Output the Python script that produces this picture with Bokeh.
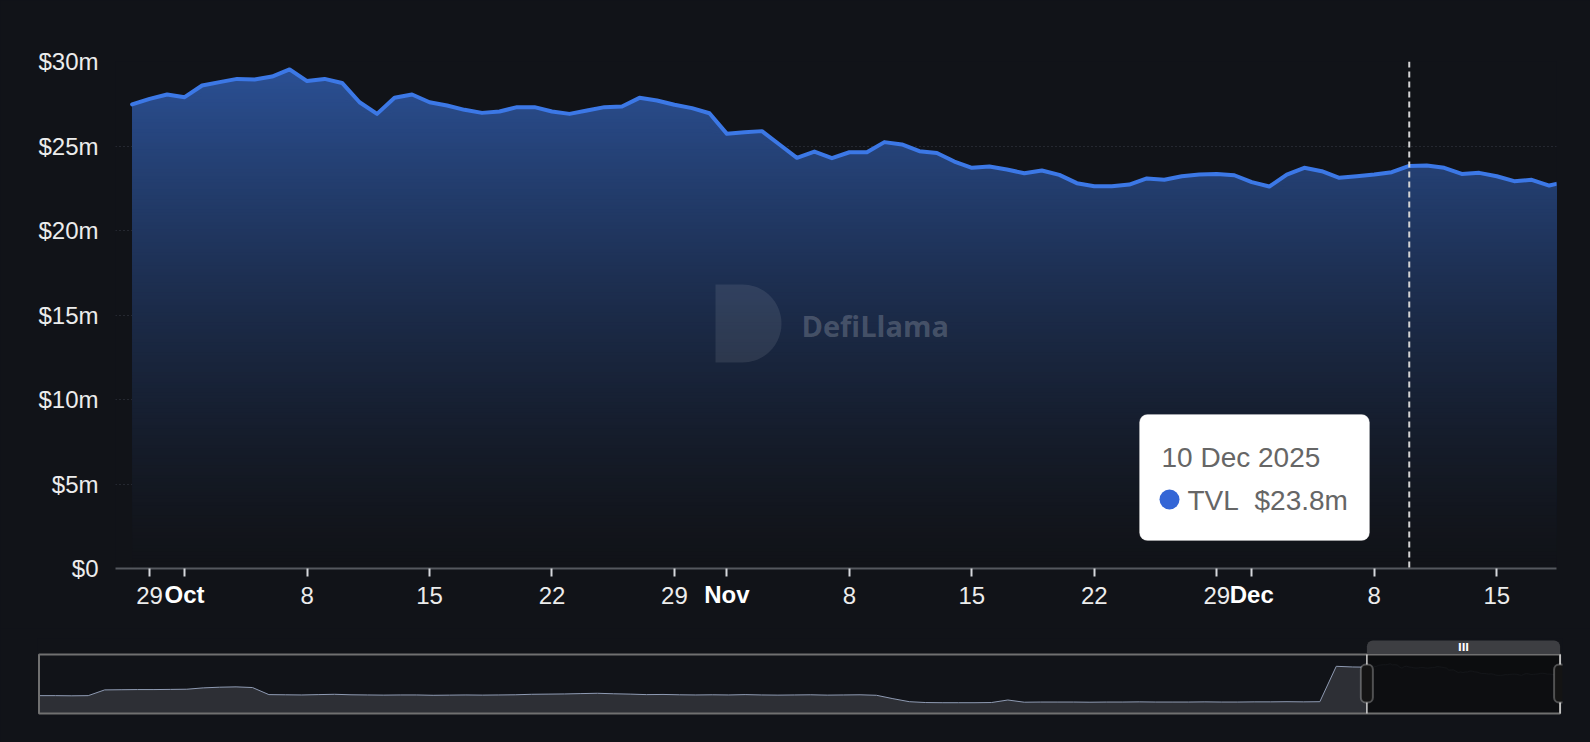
import numpy as np
import pandas as pd
from bokeh.plotting import figure
from bokeh.layouts import column
from bokeh.models import Range1d, FixedTicker, Span, Label, BoxAnnotation, DatetimeAxis
from bokeh.embed import file_html
from bokeh.resources import INLINE

# ---------------- data ----------------
first_day = "2025-09-28"
last_day = "2025-12-18"
live_timestamp = "2025-12-18 10:00"
tvl_m = [27.46, 27.79, 28.05, 27.89, 28.58, 28.78, 28.97, 28.93, 29.11, 29.53,
         28.84, 28.97, 28.73, 27.59, 26.90, 27.85, 28.05, 27.59, 27.40, 27.14,
         26.96, 27.04, 27.30, 27.30, 27.04, 26.90, 27.10, 27.30, 27.34, 27.85,
         27.69, 27.44, 27.24, 26.94, 25.72, 25.82, 25.88, 25.09, 24.30, 24.67,
         24.28, 24.63, 24.63, 25.23, 25.09, 24.69, 24.59, 24.08, 23.71, 23.79,
         23.61, 23.39, 23.55, 23.29, 22.80, 22.62, 22.62, 22.72, 23.08, 23.00,
         23.21, 23.31, 23.35, 23.27, 22.86, 22.60, 23.31, 23.71, 23.51, 23.12,
         23.21, 23.31, 23.45, 23.82, 23.85, 23.71, 23.35, 23.41, 23.21, 22.92,
         23.00, 22.66, 22.76]

y_ticks = [0, 5, 10, 15, 20, 25, 30]
y_tick_labels = ["$0", "$5m", "$10m", "$15m", "$20m", "$25m", "$30m"]

x_tick_dates = ["2025-09-29", "2025-10-01", "2025-10-08", "2025-10-15", "2025-10-22",
                "2025-10-29", "2025-11-01", "2025-11-08", "2025-11-15", "2025-11-22",
                "2025-11-29", "2025-12-01", "2025-12-08", "2025-12-15"]
x_tick_labels = ["29", "", "8", "15", "22", "29", "", "8", "15", "22", "29", "", "8", "15"]
month_dates = ["2025-10-01", "2025-11-01", "2025-12-01"]
month_names = ["Oct", "Nov", "Dec"]

tooltip_date = "2025-12-10"
tooltip_title = "10 Dec 2025"
tooltip_series = "TVL"
tooltip_value = "$23.8m"

# navigator: weekly history before the zoomed window (in $m)
nav_first_week = "2024-03-10"
nav_hist_m = [10.6, 10.6, 10.5, 10.6,
              14.0, 14.1, 14.2, 14.2, 14.3, 14.4,
              15.2, 15.6, 15.8, 15.4,
              11.2, 11.1, 11.0, 11.2, 11.4, 11.1, 11.0, 10.9, 11.0, 11.0, 10.8, 10.9, 11.0, 10.9, 11.0, 11.1,
              11.4, 11.5, 11.6, 11.8, 12.0, 11.7, 11.5,
              11.2, 11.3, 11.1, 11.0, 11.1, 11.0, 11.2, 11.0, 10.9, 11.0, 11.1, 10.9, 11.0, 11.1, 10.8,
              8.8, 7.0,
              6.5, 6.4, 6.4, 6.4, 6.5,
              8.0,
              6.7, 6.8, 6.8, 6.8, 6.7, 6.8, 6.8, 6.9, 6.8, 6.8, 6.8, 6.9, 6.8, 6.8, 6.9, 6.9, 7.0, 6.9, 7.0,
              28.0, 27.6]

# ---------------- styles ----------------
BG = "#111318"
LINE = "#3c78e6"
FONT = "Liberation Sans"
W = 1590
MAIN_H = 628
NAV_H = 114


def ms(s):
    return pd.Timestamp(s).value / 1e6


dates = list(pd.date_range(first_day, last_day, freq="D")) + [pd.Timestamp(live_timestamp)]
x_ms = np.array([d.value / 1e6 for d in dates])
vals = np.array(tvl_m)

DAY = 86400000.0
x_start = x_ms[0] - 0.95 * DAY
x_end = x_ms[-1]

# frame geometry (page pixels)
FL, FR, FT, FB = 115, 1556, 61, 568


def mx(px):
    return x_start + (px - FL) / (FR - FL) * (x_end - x_start)


def my(py):
    return 30.0 * (FB - py) / (FB - FT)


def blend(a):
    c1 = np.array([0x11, 0x13, 0x18], dtype=float)
    c2 = np.array([0x3c, 0x78, 0xe6], dtype=float)
    c = np.round(c1 + a * (c2 - c1)).astype(int)
    return "#%02x%02x%02x" % tuple(c)


p = figure(width=W, height=MAIN_H, title=None, x_axis_type="datetime",
           x_range=Range1d(x_start, x_end), y_range=Range1d(0, 30),
           output_backend="svg", toolbar_location=None,
           min_border_left=FL, min_border_right=W - FR, min_border_top=FT,
           min_border_bottom=MAIN_H - FB,
           background_fill_color=BG, border_fill_color=BG, outline_line_color=None)

# gradient area (stacked bands, top band first)
N = 150
top_val = vals.max()
edges = np.linspace(0, top_val, N + 1)
xs_list, ys_list, cols = [], [], []
for k in range(N - 1, -1, -1):
    hi = edges[k + 1]
    top = np.minimum(vals, hi)
    xs_list.append(np.concatenate([x_ms, x_ms[::-1]]))
    ys_list.append(np.concatenate([top, np.zeros_like(top)]))
    mid = 0.5 * (edges[k] + edges[k + 1])
    cols.append(blend(0.6 * (mid / top_val) ** 1.4))
p.patches(xs=xs_list, ys=ys_list, fill_color=cols, line_color=None)

p.line(x_ms, vals, line_color=LINE, line_width=4, line_join="round", line_cap="round")

# axes
p.yaxis.ticker = FixedTicker(ticks=y_ticks)
p.yaxis.major_label_overrides = {t: l for t, l in zip(y_ticks, y_tick_labels)}
p.yaxis.axis_line_color = None
p.yaxis.major_tick_line_color = None
p.yaxis.minor_tick_line_color = None
p.yaxis.major_label_standoff = 11
p.yaxis.major_label_text_font = FONT
p.yaxis.major_label_text_font_size = "24px"
p.yaxis.major_label_text_color = "#ececec"

xt = [ms(d) for d in x_tick_dates]
p.xaxis.ticker = FixedTicker(ticks=xt)
p.xaxis.major_label_overrides = {t: l for t, l in zip(xt, x_tick_labels)}
p.xaxis.axis_line_color = "#55585e"
p.xaxis.axis_line_width = 2
p.xaxis.major_tick_line_color = "#d6d8dc"
p.xaxis.major_tick_line_width = 2
p.xaxis.major_tick_in = 0
p.xaxis.major_tick_out = 8
p.xaxis.minor_tick_line_color = None
p.xaxis.major_label_standoff = 10
p.xaxis.major_label_text_font = FONT
p.xaxis.major_label_text_font_size = "24px"
p.xaxis.major_label_text_color = "#ececec"

# month names: a second (bold) axis pulled up onto the same row
mt = [ms(d) for d in month_dates]
month_axis = DatetimeAxis(ticker=FixedTicker(ticks=mt),
                          major_label_overrides={t: l for t, l in zip(mt, month_names)},
                          axis_line_color=None, major_tick_line_color=None,
                          minor_tick_line_color=None, major_tick_in=0, major_tick_out=0,
                          major_label_standoff=-26,
                          major_label_text_font=FONT, major_label_text_font_size="24px",
                          major_label_text_font_style="bold", major_label_text_color="#ffffff")
p.add_layout(month_axis, "below")

p.xgrid.visible = False
p.ygrid.grid_line_color = "#3a3f48"
p.ygrid.grid_line_dash = "1 3"
p.ygrid.grid_line_width = 1

# watermark
theta = np.linspace(np.pi / 2, -np.pi / 2, 40)
cx, cy, r = 742.0, 323.0, 39.0
wx = [715, 715] + list(cx + r * np.cos(theta))
wy = [362, 284] + list(cy - r * np.sin(theta))
p.patch([mx(v) for v in wx], [my(v) for v in wy], fill_color="#ffffff", fill_alpha=0.09, line_color=None)
p.add_layout(Label(x=mx(801), y=my(325), text="DefiLlama", text_align="left", text_baseline="middle",
                   text_font="Open Sans", text_font_size="29px", text_font_style="bold",
                   text_color="#ffffff", text_alpha=0.2))

# hover line
p.add_layout(Span(location=ms(tooltip_date), dimension="height", line_color="#d4d4d4",
                  line_width=2, line_dash="6 4"))

# tooltip
p.add_layout(BoxAnnotation(left=mx(1139), right=mx(1369), top=my(414), bottom=my(540),
                           fill_color="#ffffff", fill_alpha=1.0, line_color="#d0d0d0",
                           line_width=1, border_radius=8, level="annotation"))
dot = p.scatter([mx(1169)], [my(499)], size=20, fill_color="#3466d6", line_color=None)
dot.level = "overlay"
p.add_layout(Label(x=mx(1161), y=my(457), text=tooltip_title, text_align="left", text_baseline="middle",
                   text_font=FONT, text_font_size="28px", text_color="#666666", level="overlay"))
p.add_layout(Label(x=mx(1187), y=my(500), text=tooltip_series, text_align="left", text_baseline="middle",
                   text_font=FONT, text_font_size="28px", text_color="#666666", level="overlay"))
p.add_layout(Label(x=mx(1254), y=my(500), text=tooltip_value, text_align="left", text_baseline="middle",
                   text_font=FONT, text_font_size="28px", text_color="#666666", level="overlay"))

# ---------------- navigator ----------------
nav_dates = list(pd.date_range(nav_first_week, periods=len(nav_hist_m), freq="7D")) + dates
nav_x = np.array([d.value / 1e6 for d in nav_dates])
nav_y = np.array(nav_hist_m + tvl_m)
NAV_MAX = 35.0

NL, NR, NT, NB = 37, 1562, 10, 88          # frame inside nav figure
BX0, BX1, BY0, BY1 = 38.5, 1559.6, 26, 85  # box (px in nav figure)
ms_per_px = (x_end - nav_x[0]) / (BX1 - BX0)
m_per_px = NAV_MAX / (BY1 - BY0)
n_x0 = nav_x[0] - (BX0 - NL) * ms_per_px
n_x1 = x_end + (NR - BX1) * ms_per_px
n_y0 = -(NB - BY1) * m_per_px
n_y1 = NAV_MAX + (BY0 - NT) * m_per_px


def ny(py):
    return (BY1 - py) * m_per_px


nav = figure(width=W, height=NAV_H, title=None, x_axis_type="datetime",
             x_range=Range1d(n_x0, n_x1), y_range=Range1d(n_y0, n_y1),
             x_axis_location=None, y_axis_location=None,
             output_backend="svg", toolbar_location=None,
             min_border_left=NL, min_border_right=W - NR, min_border_top=NT,
             min_border_bottom=NAV_H - NB,
             background_fill_color=BG, border_fill_color=BG, outline_line_color=None)
nav.grid.visible = False

nav.varea(x=nav_x, y1=np.zeros_like(nav_y), y2=nav_y, fill_color="#2d2f35")
nav.line(nav_x, nav_y, line_color="#8f9bb3", line_width=1)

sel0 = x_start
nav.quad(left=[sel0], right=[x_end], bottom=[0], top=[NAV_MAX], fill_color="#0c0d0f",
         fill_alpha=0.94, line_color=None)
nav.quad(left=[nav_x[0]], right=[x_end], bottom=[0], top=[NAV_MAX], fill_color=None,
         line_color="#707070", line_width=2)
nav.segment(x0=[sel0, x_end], y0=[0, 0], x1=[sel0, x_end], y1=[NAV_MAX, NAV_MAX],
            line_color="#d0d0d0", line_width=1.5)

nav.add_layout(BoxAnnotation(left=sel0, right=x_end, bottom=ny(25), top=ny(12),
                             fill_color="#3d3e42", fill_alpha=1.0, line_color=None,
                             border_radius=(6, 6, 0, 0)))
nav.add_layout(Label(x=0.5 * (sel0 + x_end), y=ny(18.5), text="III", text_align="center",
                     text_baseline="middle", text_font="DejaVu Sans",
                     text_font_size="10px", text_font_style="bold", text_color="#ffffff"))
for hx in (sel0, x_end):
    nav.add_layout(BoxAnnotation(left=hx - 6 * ms_per_px, right=hx + 6 * ms_per_px,
                                 bottom=ny(74), top=ny(36),
                                 fill_color="#141414", fill_alpha=1.0, line_color="#e6e6e6",
                                 line_width=2, border_radius=5))

for fig in (p, nav):
    try:
        fig.frame_align = False
    except AttributeError:
        pass

layout = column(p, nav, spacing=0)

html = file_html(layout, INLINE, title="TVL")
html = html.replace("<head>", "<head><style>html,body{margin:0;padding:0;background:%s;overflow:hidden;}</style>" % BG, 1)
open("out.html", "w").write(html)
